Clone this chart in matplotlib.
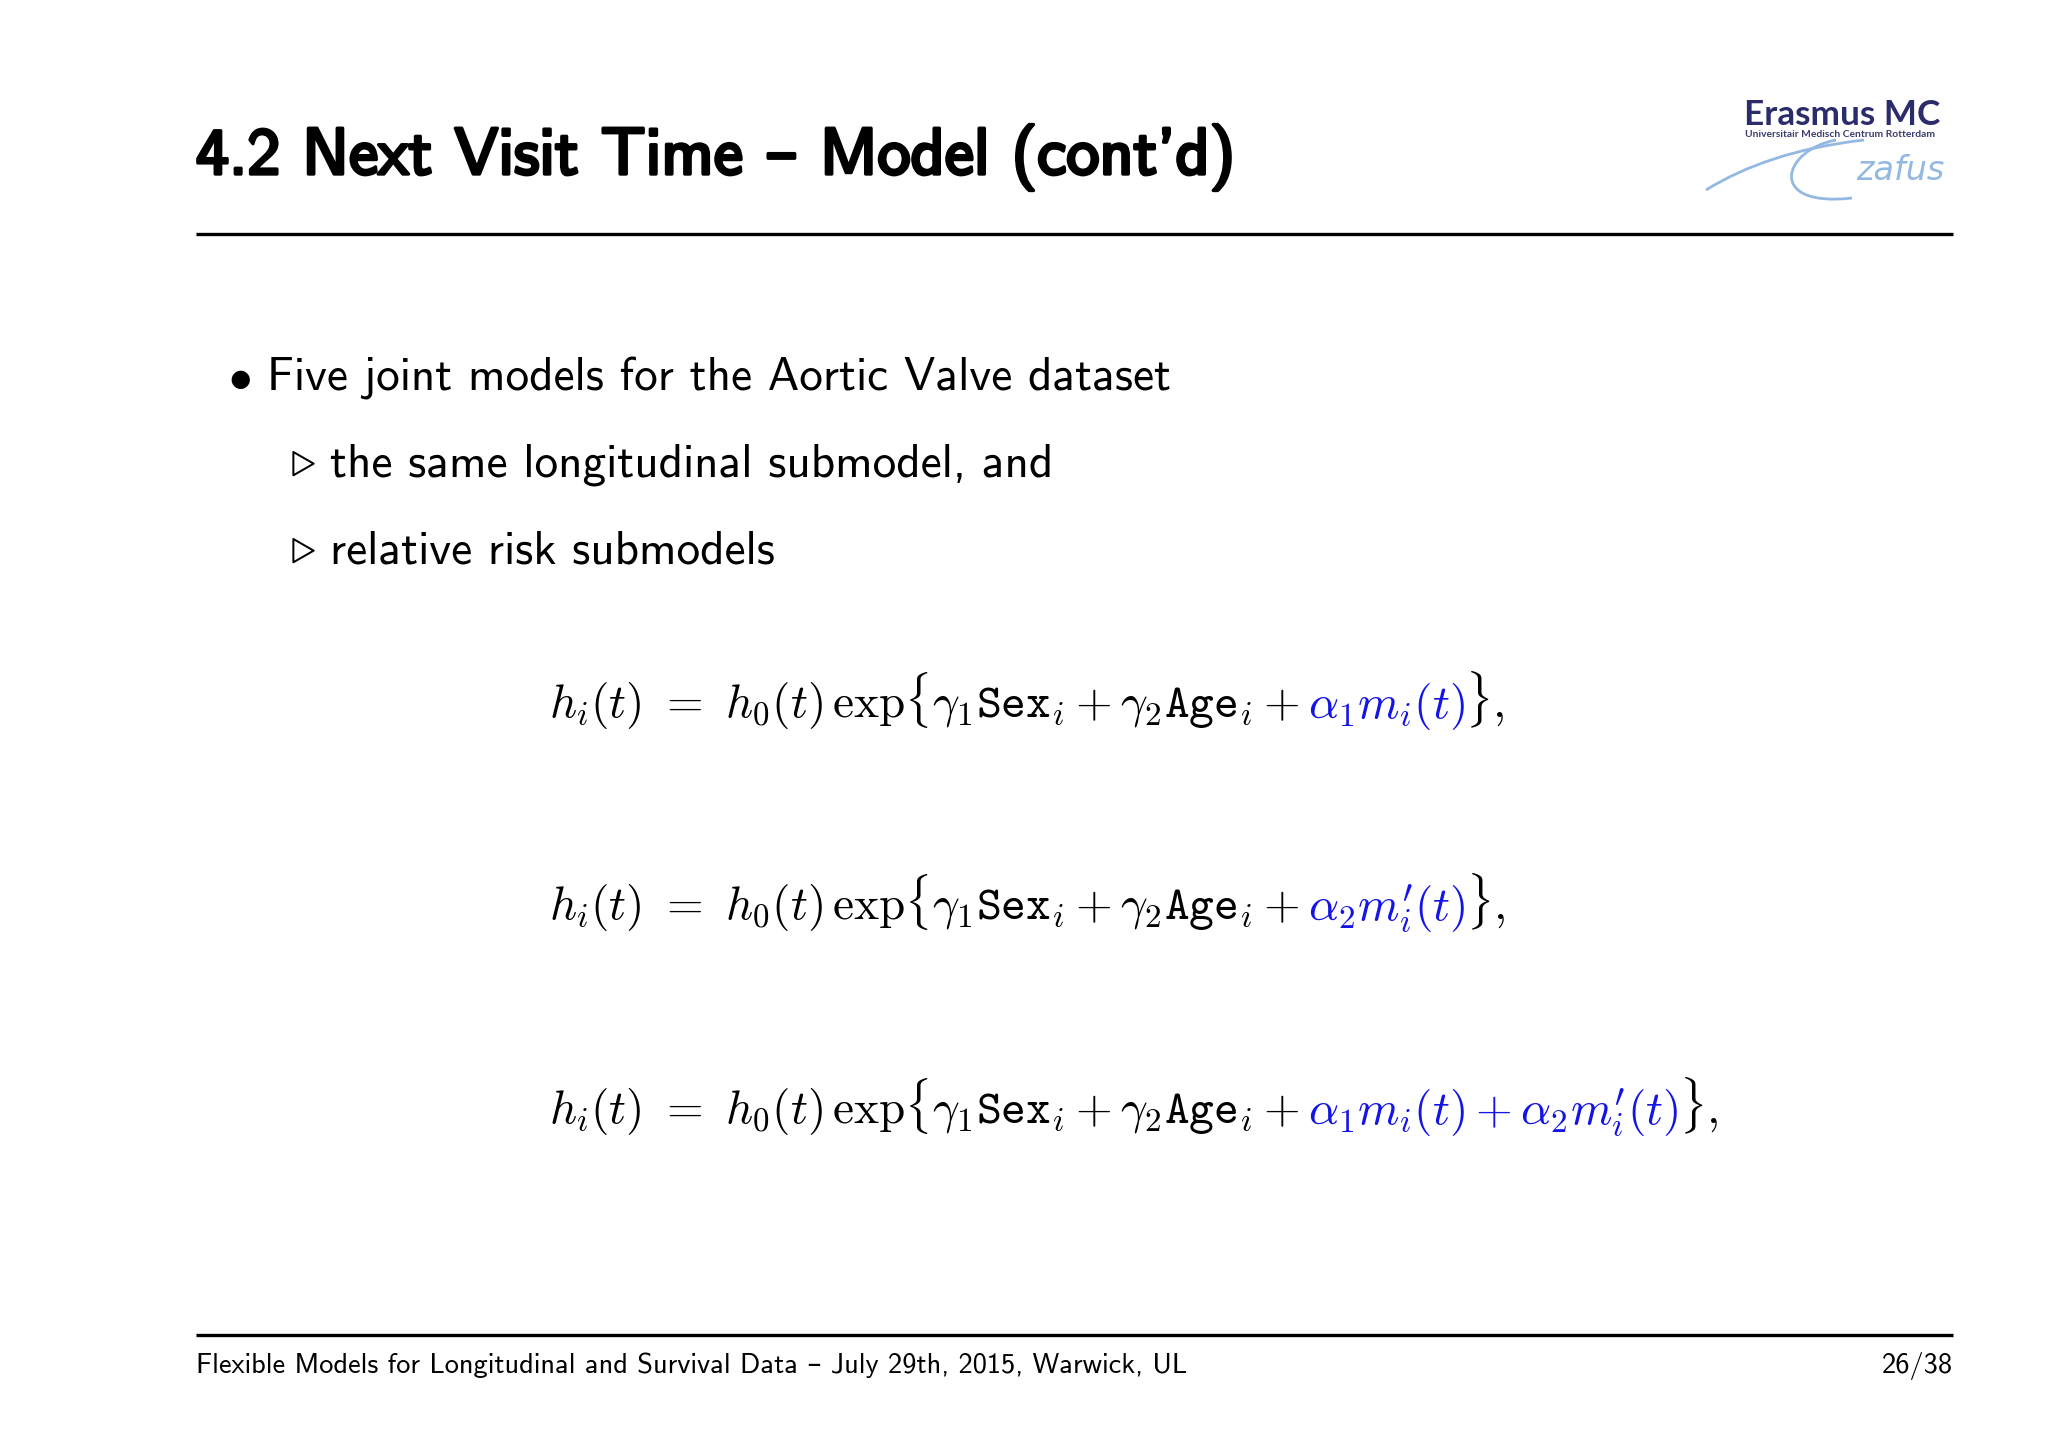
import matplotlib
matplotlib.use('Agg')
import matplotlib.pyplot as plt
import matplotlib.patheffects as pe
from matplotlib.path import Path
from matplotlib.patches import PathPatch

plt.rcParams['mathtext.fontset'] = 'cm'

# slide content
title = "4.2 Next Visit Time \u2013 Model (cont'd)"
bullet = "Five joint models for the Aortic Valve dataset"
sub_items = ["the same longitudinal submodel, and", "relative risk submodels"]
footer_left = "Flexible Models for Longitudinal and Survival Data \u2013 July 29th, 2015, Warwick, UL"
footer_right = "26/38"

BLUE = '#1414e6'
lhs = r"$h_i(t)\ =\ h_0(t)\,\mathrm{exp}\{\gamma_1\mathtt{Sex}_i+\gamma_2\mathtt{Age}_i+$"
close = r"$\},$"
equations = [
    [(lhs, 'black'), (r"$\>\alpha_1 m_i(t)$", BLUE), (close, 'black')],
    [(lhs, 'black'), (r"$\>\alpha_2 m^{\prime}_i(t)$", BLUE), (close, 'black')],
    [(lhs, 'black'), (r"$\>\alpha_1 m_i(t)+\alpha_2 m^{\prime}_i(t)$", BLUE), (close, 'black')],
]
eq_y = [718, 920, 1124]

fig = plt.figure(figsize=(20.48, 14.48), dpi=100)
ax = fig.add_axes([0, 0, 1, 1])
ax.set_xlim(0, 2048)
ax.set_ylim(1448, 0)
ax.set_axis_off()
r = fig.canvas.get_renderer()

sans = ['cmss10', 'DejaVu Sans']
LX, RX = 196, 1953

# header
ax.text(LX, 174, title, fontsize=47.5, family=sans, va='baseline',
        path_effects=[pe.withStroke(linewidth=2.4, foreground='black')])
ax.plot([LX, RX], [234, 234], color='black', lw=2.4, solid_capstyle='butt')

# logo
ax.text(1744, 125, "Erasmus MC", fontsize=25.3, family='Lato', weight='bold',
        color='#2b2c6c', va='baseline')
ax.text(1745, 137, "Universitair Medisch Centrum Rotterdam", fontsize=7.4,
        family='Lato', weight='bold', color='#3a3b70', va='baseline')
swirl = '#93b9e2'
for pts in [[(1706, 190), (1745, 166), (1795, 148), (1864, 140)],
            [(1836, 140), (1782, 150), (1766, 208), (1852, 198)]]:
    p = Path(pts, [Path.MOVETO, Path.CURVE4, Path.CURVE4, Path.CURVE4])
    ax.add_patch(PathPatch(p, fill=False, edgecolor=swirl, lw=2.0))
ax.text(1856, 180, "zafus", fontsize=24, family='DejaVu Sans', style='italic',
        color=swirl, va='baseline')

# bullets
ax.text(228, 390, r"$\bullet$", fontsize=34, va='baseline')
ax.text(267, 390, bullet, fontsize=34, family=sans, va='baseline')
for k, item in enumerate(sub_items):
    yy = 476 + k * 87
    ax.text(290, yy, r"$\triangleright$", fontsize=36, va='baseline')
    ax.text(330, yy, item, fontsize=34, family=sans, va='baseline')

# equations, drawn piece by piece so the blue terms can be coloured
for pieces, yy in zip(equations, eq_y):
    x = 549
    for tex, col in pieces:
        t = ax.text(x, yy, tex, fontsize=34, color=col, va='baseline')
        x += t.get_window_extent(renderer=r).width

# footer
ax.plot([LX, RX], [1335, 1335], color='black', lw=2.4, solid_capstyle='butt')
ax.text(LX, 1373, footer_left, fontsize=20.4, family=sans, va='baseline')
ax.text(RX, 1373, footer_right, fontsize=20.4, family=sans, va='baseline', ha='right')

fig.savefig('out.png', dpi=100)
